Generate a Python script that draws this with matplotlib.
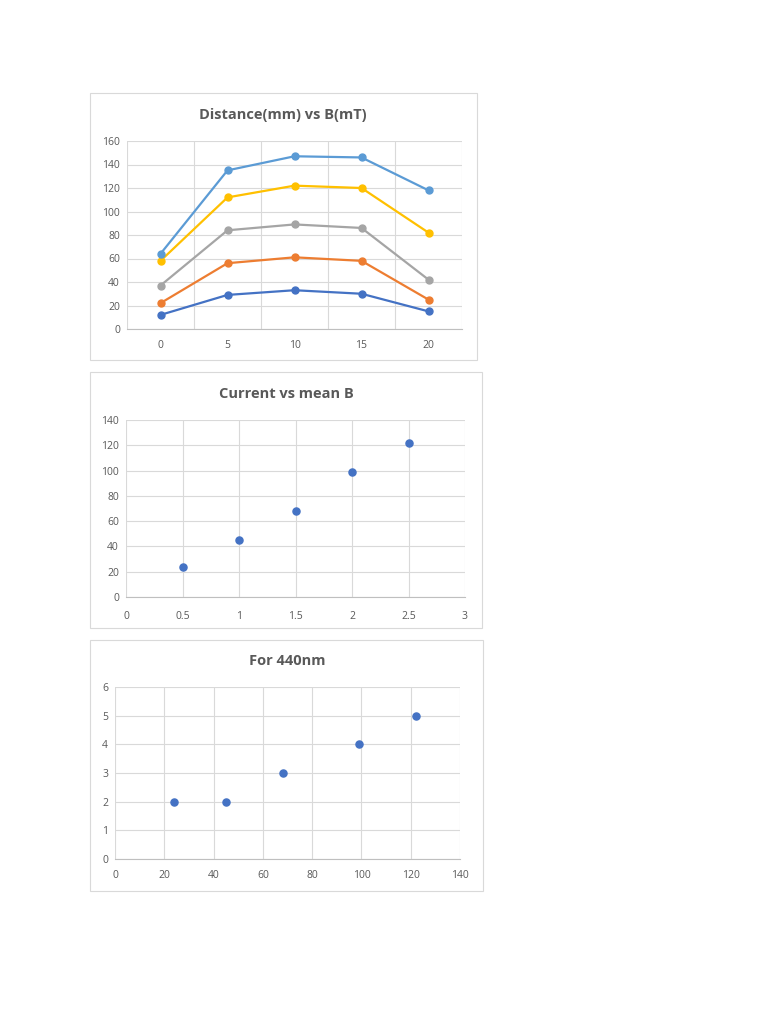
import matplotlib
matplotlib.use("Agg")
import matplotlib.pyplot as plt
from matplotlib.patches import Rectangle

plt.rcParams['font.family'] = ['Open Sans', 'DejaVu Sans']

# chart 1: distance vs B, five series
dist_labels = ["0", "5", "10", "15", "20"]
b_series1 = [12, 29, 33, 30, 15]
b_series2 = [22, 56, 61, 58, 25]
b_series3 = [37, 84, 89, 86, 42]
b_series4 = [58, 112, 122, 120, 82]
b_series5 = [64, 135, 147, 146, 118]

# chart 2: current vs mean B
current = [0.5, 1, 1.5, 2, 2.5]
mean_b = [24, 45, 68, 99, 122]

# chart 3: for 440nm
b_440 = [24, 45, 68, 99, 122]
order_440 = [2, 2, 3, 4, 5]

W, H = 768, 1024
fig = plt.figure(figsize=(W / 100, H / 100), dpi=100)
fig.patch.set_facecolor("white")

TXT = "#595959"
GRID = "#D9D9D9"


def frame(x0, y0, x1, y1):
    fig.patches.append(Rectangle((x0 / W, 1 - y1 / H), (x1 - x0) / W, (y1 - y0) / H,
                                 transform=fig.transFigure, facecolor="white",
                                 edgecolor=GRID, linewidth=0.8, zorder=-1))


def axes_px(x0, y0, x1, y1):
    ax = fig.add_axes([x0 / W, 1 - y1 / H, (x1 - x0) / W, (y1 - y0) / H])
    ax.set_facecolor("none")
    for s in ["left", "right", "top"]:
        ax.spines[s].set_visible(False)
    ax.spines["bottom"].set_color("#BFBFBF")
    ax.spines["bottom"].set_linewidth(0.8)
    ax.tick_params(length=0, colors=TXT, labelsize=7.5, pad=5)
    ax.grid(True, color=GRID, linewidth=0.8)
    ax.set_axisbelow(True)
    return ax


def title(txt, x, y):
    fig.text(x / W, 1 - y / H, txt, ha="center", va="center", fontsize=10.5,
             fontweight="bold", color=TXT)


# --- chart 1
frame(90, 93, 477, 360)
title("Distance(mm) vs B(mT)", 283, 115)
ax1 = axes_px(127, 141, 462, 329)
pos = list(range(len(dist_labels)))
colors = ["#4472C4", "#ED7D31", "#A5A5A5", "#FFC000", "#5B9BD5"]
for ys, c in zip([b_series1, b_series2, b_series3, b_series4, b_series5], colors):
    ax1.plot(pos, ys, color=c, linewidth=1.6, marker="o", markersize=5)
ax1.set_xlim(-0.5, 4.5)
ax1.set_ylim(0, 160)
ax1.set_yticks(range(0, 161, 20))
ax1.set_xticks(pos)
ax1.set_xticklabels(dist_labels)
ax1.set_xticks([p - 0.5 for p in pos] + [4.5], minor=True)
ax1.xaxis.grid(False, which="major")
ax1.xaxis.grid(True, which="minor", color=GRID, linewidth=0.8)
ax1.tick_params(which="minor", length=0)
ax1.tick_params(axis="x", pad=8)

# --- chart 2
frame(90, 372, 482, 628)
title("Current vs mean B", 286, 394)
ax2 = axes_px(126, 420, 465, 597)
ax2.scatter(current, mean_b, s=26, color="#4472C4", zorder=3)
ax2.set_xlim(0, 3)
ax2.set_ylim(0, 140)
ax2.set_xticks([0, 0.5, 1, 1.5, 2, 2.5, 3])
ax2.set_xticklabels(["0", "0.5", "1", "1.5", "2", "2.5", "3"])
ax2.set_yticks(range(0, 141, 20))
ax2.tick_params(axis="x", pad=10)

# --- chart 3
frame(90, 640, 483, 891)
title("For 440nm", 287, 661)
ax3 = axes_px(115, 687, 460, 859)
ax3.scatter(b_440, order_440, s=26, color="#4472C4", zorder=3)
ax3.set_xlim(0, 140)
ax3.set_ylim(0, 6)
ax3.set_xticks(range(0, 141, 20))
ax3.set_yticks(range(0, 7))
ax3.tick_params(axis="x", pad=8)

fig.savefig("out.png", dpi=100)
